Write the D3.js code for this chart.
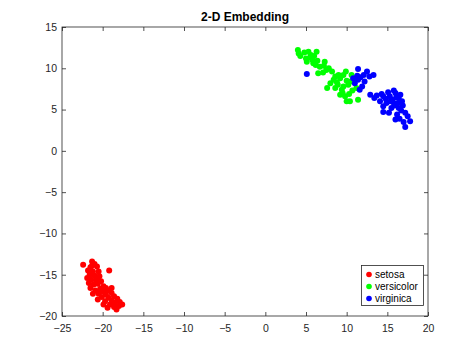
<!DOCTYPE html>
<html><head><meta charset="utf-8">
<script src="https://cdn.jsdelivr.net/npm/d3@7"></script>
<style>body{margin:0;background:#fff}svg{display:block}text{font-family:"Liberation Sans",Arial,Helvetica,sans-serif}</style>
</head><body><div id="chart"></div>
<script>
const title = "2-D Embedding";
const xTicks = [-25,-20,-15,-10,-5,0,5,10,15,20];
const yTicks = [-20,-15,-10,-5,0,5,10,15];
const speciesNames = ["setosa","versicolor","virginica"];
const speciesColors = ["#ff0000","#00ff00","#0000ff"];
const setosa = [[-22.4,-13.8],[-21.3,-13.4],[-21.0,-13.7],[-21.5,-14.1],[-20.7,-14.0],[-21.8,-14.5],[-21.2,-14.6],[-20.5,-14.6],[-19.2,-14.5],[-21.6,-15.0],[-21.0,-15.1],[-20.4,-15.2],[-21.9,-15.4],[-21.4,-15.6],[-20.8,-15.7],[-20.2,-15.8],[-21.7,-16.0],[-21.1,-16.2],[-20.6,-16.1],[-19.9,-16.4],[-21.5,-16.6],[-20.3,-16.7],[-19.6,-16.6],[-20.9,-16.9],[-19.9,-17.0],[-19.3,-16.9],[-21.2,-17.3],[-20.5,-17.3],[-19.6,-17.4],[-18.9,-17.2],[-20.1,-17.7],[-19.3,-17.8],[-18.6,-17.6],[-20.6,-18.0],[-19.7,-18.2],[-18.9,-18.1],[-18.2,-17.9],[-19.9,-18.6],[-19.1,-18.6],[-18.5,-18.4],[-17.9,-18.3],[-19.4,-19.0],[-18.6,-18.9],[-18.0,-18.8],[-17.6,-18.6],[-18.3,-19.2],[-20.0,-17.0],[-20.7,-15.4],[-21.3,-13.9],[-18.9,-16.6]];
const versicolor = [[4.0,12.2],[4.1,11.8],[4.3,11.5],[4.8,11.9],[5.3,12.0],[5.6,11.6],[6.3,12.0],[5.0,11.2],[5.5,11.3],[6.0,11.5],[5.8,11.0],[5.1,10.8],[5.9,10.6],[6.4,10.9],[7.3,10.8],[6.7,10.2],[6.2,10.4],[7.8,10.0],[7.2,10.3],[6.5,9.4],[7.1,9.5],[8.2,9.6],[8.6,9.0],[9.0,9.2],[9.6,9.2],[10.6,9.2],[8.4,8.6],[9.2,8.8],[8.8,8.3],[10.0,8.5],[7.6,7.6],[8.6,7.6],[9.6,7.8],[9.4,7.4],[10.2,8.0],[11.2,7.6],[9.2,6.8],[9.8,6.6],[10.0,6.0],[10.4,6.0],[11.4,6.2],[9.5,7.0],[10.3,6.9],[10.7,7.3],[8.0,8.2],[9.9,9.6],[7.5,9.8],[8.9,8.0],[10.5,8.4],[11.0,8.8]];
const virginica = [[5.1,9.3],[11.4,9.9],[12.5,9.6],[13.3,9.2],[12.1,9.2],[10.8,8.8],[11.4,8.6],[11.0,8.2],[11.9,7.8],[11.6,7.4],[12.2,8.4],[11.3,9.1],[12.9,6.8],[13.7,6.7],[14.5,6.6],[16.0,7.0],[15.3,6.6],[16.4,6.4],[14.1,6.0],[14.9,5.8],[15.8,5.8],[16.8,6.0],[14.5,5.4],[15.5,5.2],[16.4,5.2],[14.5,4.7],[16.2,4.4],[17.2,4.6],[16.0,3.8],[17.0,3.5],[17.8,3.6],[17.2,2.9],[15.6,6.2],[15.1,7.1],[16.6,6.8],[15.9,5.5],[14.8,6.3],[13.4,6.4],[16.7,4.9],[16.5,3.9],[15.2,4.6],[15.8,7.3],[16.3,5.8],[14.3,6.9],[16.9,5.5],[17.5,4.2],[11.7,8.9],[12.8,9.0],[15.4,6.0],[16.1,6.5]];
const groups = [setosa, versicolor, virginica];

const W = 474, H = 355;
const m = {left: 62, right: 46, top: 27, bottom: 39};
const svg = d3.select("#chart").append("svg").attr("width", W).attr("height", H);
const x = d3.scaleLinear().domain([-25, 20]).range([m.left, W - m.right]);
const y = d3.scaleLinear().domain([-20, 15]).range([H - m.bottom, m.top]);
const axisColor = "#262626";

// points
groups.forEach((g, i) => {
  svg.append("g").selectAll("circle").data(g).join("circle")
    .attr("cx", d => x(d[0])).attr("cy", d => y(d[1])).attr("r", 3)
    .attr("fill", speciesColors[i]);
});

function styleAxis(g, showLabels) {
  g.select(".domain").remove();
  g.selectAll(".tick line").attr("stroke", axisColor).attr("stroke-width", 0.8);
  g.selectAll(".tick text").attr("fill", axisColor).attr("font-size", "10.5px");
  if (!showLabels) g.selectAll(".tick text").remove();
}
const tl = 4;
svg.append("g").attr("transform", `translate(0,${H - m.bottom})`)
  .call(d3.axisBottom(x).tickValues(xTicks).tickSize(-tl).tickPadding(9).tickFormat(d3.format("d")))
  .call(g => styleAxis(g, true));
svg.append("g").attr("transform", `translate(0,${m.top})`)
  .call(d3.axisTop(x).tickValues(xTicks).tickSize(-tl))
  .call(g => styleAxis(g, false));
svg.append("g").attr("transform", `translate(${m.left},0)`)
  .call(d3.axisLeft(y).tickValues(yTicks).tickSize(-tl).tickPadding(5).tickFormat(d3.format("d")))
  .call(g => styleAxis(g, true));
svg.append("g").attr("transform", `translate(${W - m.right},0)`)
  .call(d3.axisRight(y).tickValues(yTicks).tickSize(-tl))
  .call(g => styleAxis(g, false));

svg.append("rect").attr("x", m.left).attr("y", m.top)
  .attr("width", W - m.left - m.right).attr("height", H - m.top - m.bottom)
  .attr("fill", "none").attr("stroke", axisColor).attr("stroke-width", 0.8);

svg.append("text").attr("x", (m.left + W - m.right) / 2).attr("y", 21)
  .attr("text-anchor", "middle").attr("font-weight", "bold").attr("font-size", "12px")
  .attr("fill", "#000").text(title);

// legend
const lg = svg.append("g");
lg.append("rect").attr("x", 361.5).attr("y", 265.5).attr("width", 62).attr("height", 40)
  .attr("fill", "#fff").attr("stroke", axisColor).attr("stroke-width", 0.8);
speciesNames.forEach((n, i) => {
  const yy = 274.5 + i * 12;
  lg.append("circle").attr("cx", 369).attr("cy", yy).attr("r", 2.8).attr("fill", speciesColors[i]);
  lg.append("text").attr("x", 375).attr("y", yy + 3.5).attr("font-size", "10px").attr("fill", "#000").text(n);
});
</script></body></html>
